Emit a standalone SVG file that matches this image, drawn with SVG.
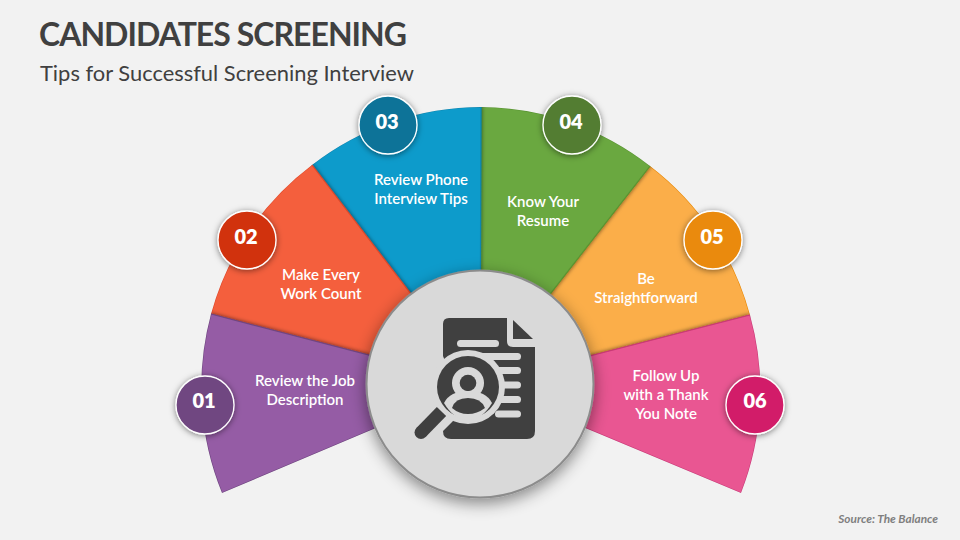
<svg xmlns="http://www.w3.org/2000/svg" width="960" height="540" viewBox="0 0 960 540">
<defs>
<filter id="ws" x="-20%" y="-20%" width="140%" height="140%"><feDropShadow dx="0" dy="0" stdDeviation="2" flood-color="#000" flood-opacity="0.6"/></filter>
<filter id="cs" x="-30%" y="-30%" width="160%" height="160%"><feDropShadow dx="0" dy="5" stdDeviation="8" flood-color="#000" flood-opacity="0.45"/></filter>
<filter id="bs" x="-30%" y="-30%" width="160%" height="160%"><feDropShadow dx="0" dy="1" stdDeviation="3" flood-color="#000" flood-opacity="0.5"/></filter>
<clipPath id="fan"><path d="M480 384L222 493A280 280 0 0 1 211 314A278 278 0 0 1 312 165A277 277 0 0 1 481 107A277 277 0 0 1 650 166A278 278 0 0 1 750 315A280 280 0 0 1 741 493Z"/></clipPath>
</defs>
<style>
text{font-family:"Lato","Open Sans","Liberation Sans",sans-serif}
.title{font-size:32px;font-weight:700;fill:#404040}
.sub{font-size:21.9px;fill:#404040}
.lab{font-size:15px;font-weight:600;fill:#fff;text-anchor:middle}
.num{font-size:20px;font-weight:800;fill:#fff;text-anchor:middle}
.badge{stroke:#fff;stroke-width:1.3;filter:url(#bs)}
.wedge{filter:url(#ws);stroke-width:1.2}
.lt{fill:#d9d9d9}
.dk{fill:#404040}
</style>
<rect width="960" height="540" fill="#f2f2f2"/>
<text class="title" x="39" y="46" textLength="368" lengthAdjust="spacing">CANDIDATES SCREENING</text>
<text class="sub" x="40" y="81">Tips for Successful Screening Interview</text>
<g id="connectors"/>
<g id="wedges" clip-path="url(#fan)">
<g id="w05"><path class="wedge" d="M480 384L750 315A278 278 0 0 0 650 166Z" fill="#fbae4a" stroke="#ea8a07"/></g>
<g id="w04"><path class="wedge" d="M480 384L650 166A277 277 0 0 0 481 107Z" fill="#6aa83f" stroke="#5a9534"/></g>
<g id="w03"><path class="wedge" d="M480 384L312 165A277 277 0 0 1 481 107Z" fill="#089bcb" stroke="#0a86b0"/></g>
<g id="w02"><path class="wedge" d="M480 384L211 314A278 278 0 0 1 312 165Z" fill="#f45f3c" stroke="#e0482a"/></g>
<g id="w01"><path class="wedge" d="M480 384L222 493A280 280 0 0 1 211 314Z" fill="#955ca5" stroke="#704681"/></g>
<g id="w06"><path class="wedge" d="M480 384L741 493A280 280 0 0 0 750 315Z" fill="#e95692" stroke="#c93a78"/></g>
</g>
<g id="hub">
<circle cx="480" cy="384" r="113.5" fill="#d9d9d9" stroke="#8c8c8c" stroke-width="2" filter="url(#cs)"/>
<path class="dk" d="M449 318H507V341Q507 347 513 347H535V431Q535 439 527 439H451Q443 439 443 431L453 421L460 400L443 356V324Q443 318 449 318Z"/>
<path class="dk" d="M513 320L533 339H513Z"/>
<g class="lt">
<rect x="457" y="340" width="42" height="7" rx="3.5"/>
<rect x="480" y="353" width="41" height="7" rx="3.5"/>
<rect x="480" y="367" width="41" height="7" rx="3.5"/>
<rect x="480" y="381.500" width="41" height="7" rx="3.5"/>
<rect x="480" y="396" width="41" height="7" rx="3.500"/>
<rect x="495" y="410.500" width="26" height="7" rx="3.5"/>
</g>
<circle class="lt" cx="468" cy="387" r="37"/>
<circle class="dk" cx="468" cy="387" r="31"/>
<circle class="lt" cx="468" cy="383" r="16"/>
<circle class="dk" cx="468" cy="383" r="8.300"/>
<path class="lt" d="M444 403Q450 391 468 391Q486 391 492 403Q482 420 468 420Q454 420 444 403Z"/>
<path class="dk" d="M452 408Q455 398 468 398Q481 398 485 408Q477 414 468 414Q459 414 452 408Z"/>
<path d="M441.500 411.500L421 432.500" stroke="#404040" stroke-width="13" fill="none"/>
<circle class="dk" cx="421" cy="432.500" r="6.500"/>
</g>
<g id="n01"><circle class="badge" cx="205" cy="405" r="29" fill="#704681"/><text class="num" x="204" y="408">01</text><text class="lab" x="305" y="386">Review the Job</text><text class="lab" x="305" y="405">Description</text></g>
<g id="n02"><circle class="badge" cx="247" cy="240" r="29" fill="#d1330f"/><text class="num" x="246" y="244">02</text><text class="lab" x="321" y="280">Make Every</text><text class="lab" x="321" y="299">Work Count</text></g>
<g id="n03"><circle class="badge" cx="388" cy="125" r="29" fill="#087398"/><text class="num" x="387" y="129">03</text><text class="lab" x="421" y="185">Review Phone</text><text class="lab" x="421" y="204">Interview Tips</text></g>
<g id="n04"><circle class="badge" cx="572" cy="125" r="29" fill="#527d32"/><text class="num" x="571" y="129">04</text><text class="lab" x="543" y="207">Know Your</text><text class="lab" x="543" y="226">Resume</text></g>
<g id="n05"><circle class="badge" cx="713" cy="240" r="29" fill="#ea8a07"/><text class="num" x="712" y="244">05</text><text class="lab" x="646" y="284">Be</text><text class="lab" x="646" y="303">Straightforward</text></g>
<g id="n06"><circle class="badge" cx="755" cy="405" r="29" fill="#d21f69"/><text class="num" x="755" y="408">06</text><text class="lab" x="666" y="381">Follow Up</text><text class="lab" x="666" y="400">with a Thank</text><text class="lab" x="666" y="419">You Note</text></g>
<text x="938" y="523" text-anchor="end" style="font-size:11.8px;font-weight:700;font-style:italic;fill:#7f7f7f">Source: The Balance</text>
</svg>
